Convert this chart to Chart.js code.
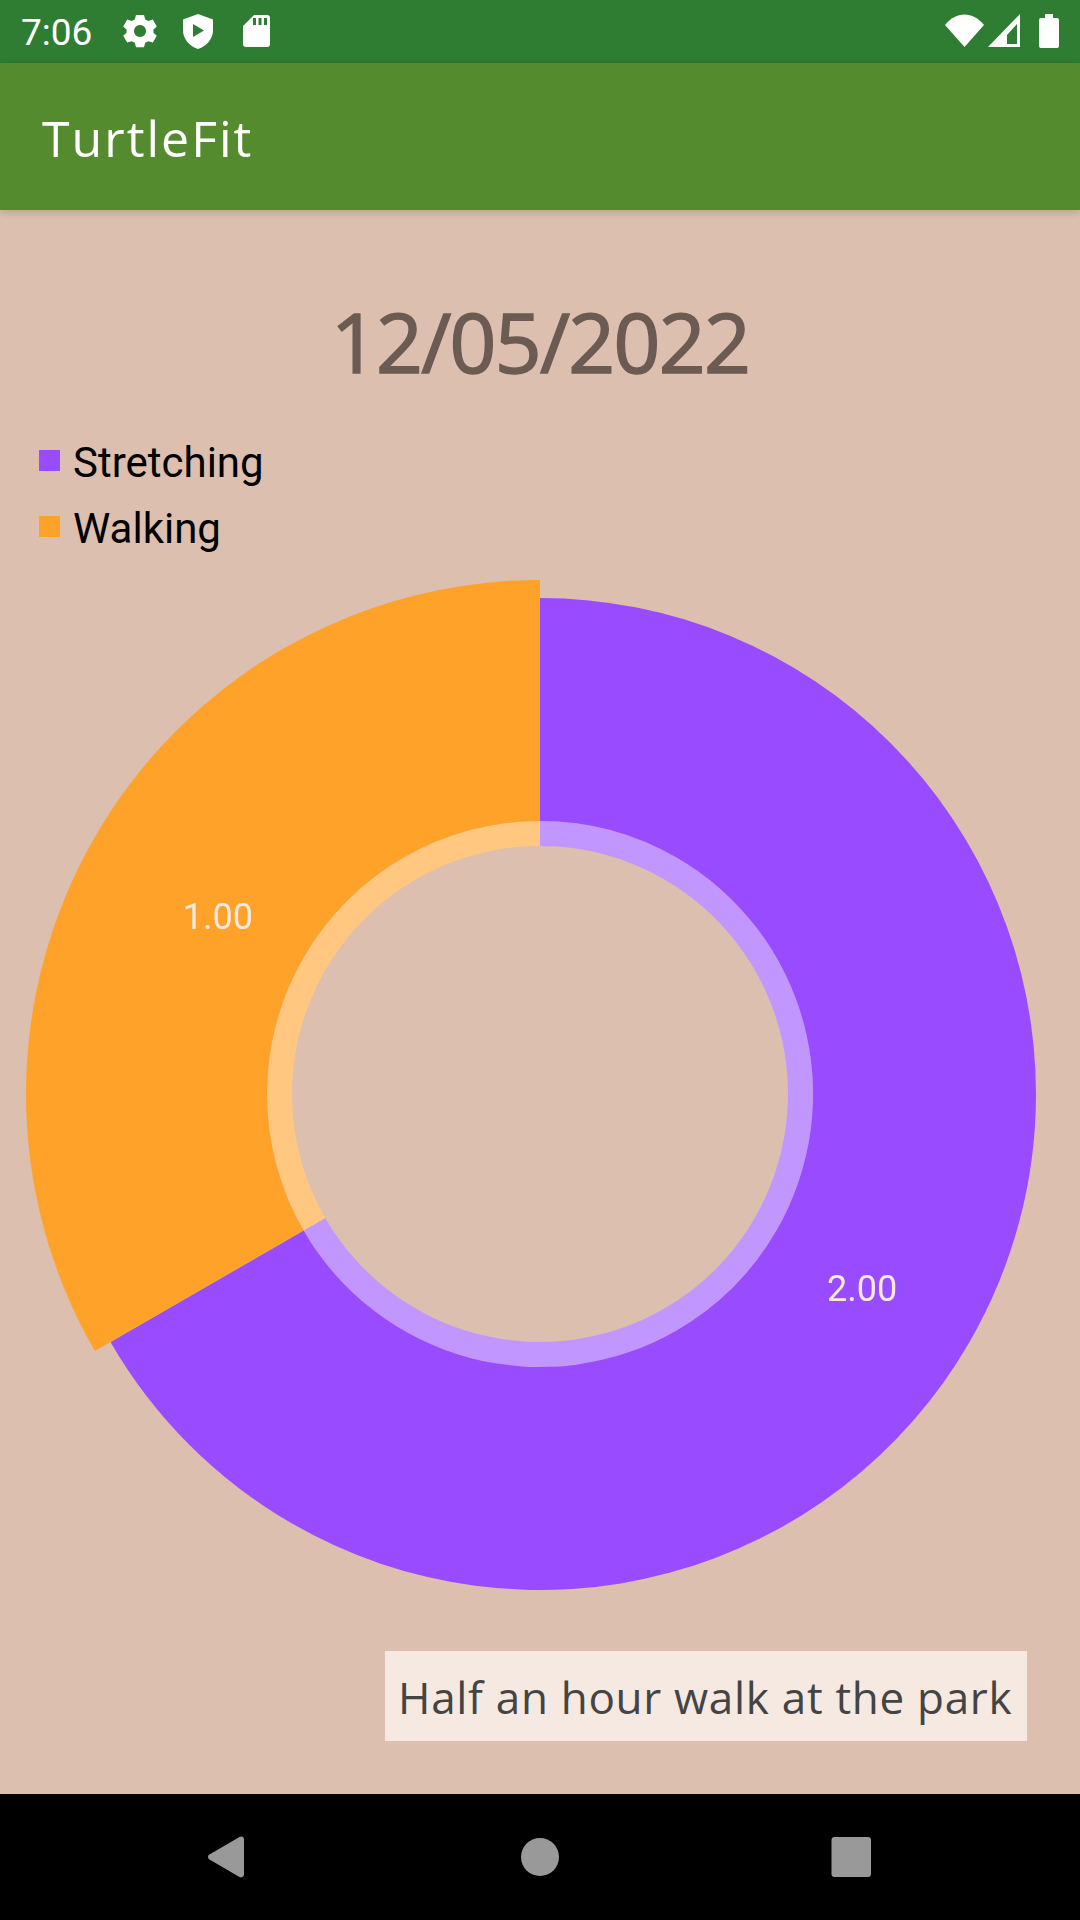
<!DOCTYPE html>
<html>
<head>
<meta charset="utf-8">
<title>TurtleFit</title>
<script src="https://cdn.jsdelivr.net/npm/chart.js@4"></script>
<style>
html,body{margin:0;padding:0;background:#000;}
#page{position:relative;width:1080px;height:1920px;overflow:hidden;background:#DCBFAE;}
#page>*{position:absolute;}
#status{left:0;top:0;width:1080px;height:63px;background:#2E7D32;}
#appbar{left:0;top:63px;width:1080px;height:147px;background:#558B2F;box-shadow:0 2px 8px rgba(0,0,0,.18);}
#nav{left:0;top:1794px;width:1080px;height:126px;background:#000;}
.t{white-space:nowrap;line-height:1;}
#time{left:21px;top:14px;font:37px/1 Roboto,sans-serif;color:#fff;}
#title{left:42px;top:113px;font:50px/1 "Open Sans",sans-serif;letter-spacing:2px;color:#fff;}
#date{left:0;width:1080px;top:300px;text-align:center;font:82px/1 "Open Sans",sans-serif;letter-spacing:-1.7px;-webkit-text-stroke:1.6px #6B5B53;color:#6B5B53;}
#chart{left:0;top:554px;width:1080px;height:1080px;}
.legbox{width:21px;height:21px;left:39px;}
.legtxt{left:73px;font:42px/1 Roboto,sans-serif;color:#000;}
#note{left:385px;top:1651px;width:642px;height:90px;background:#F5E9E1;}
#notetxt{left:398px;top:1675px;font:44px/1 "Open Sans",sans-serif;letter-spacing:.7px;color:#444;}
svg{overflow:visible;}
</style>
</head>
<body>
<div id="page">
  <div id="status"></div>
  <div id="appbar"></div>
  <div id="time" class="t">7:06</div>
  <svg style="left:0;top:0" width="1080" height="64" fill="#fff">
    <path fill-rule="evenodd" transform="translate(140 31) scale(.8) translate(-140 -31)" d="M135 11h10l1.500 5.500 4 2 5.500-1.800 5 8.600-4.200 3.800v4l4.200 3.800-5 8.600-5.500-1.800-4 2-1.500 5.500h-10l-1.500-5.500-4-2-5.500 1.800-5-8.600 4.200-3.800v-4l-4.200-3.800 5-8.600 5.500 1.800 4-2zM140 23.500a7.500 7.500 0 1 0 .01 0z"/>
    <path fill-rule="evenodd" d="M198 14l15 5.500v11c0 8-6 15.500-15 18.500-9-3-15-10.500-15-18.500v-11zM193 24v13l11-6.500z"/>
    <path fill-rule="evenodd" d="M254 15h13a3 3 0 0 1 3 3v26a3 3 0 0 1-3 3h-21a3 3 0 0 1-3-3v-18zM253 18v7h3v-7zM258.500 18v7h3v-7zM264 18v7h3v-7z"/>
    <path d="M945 25c11-14 28-14 39 0l-19.500 22z"/>
    <path fill-rule="evenodd" d="M1020 14v33h-32zM1017 24l-10 11v9h10z"/>
    <path d="M1045 14h8v4h4a2 2 0 0 1 2 2v26a2 2 0 0 1-2 2h-16a2 2 0 0 1-2-2v-26a2 2 0 0 1 2-2h4z"/>
  </svg>
  <div id="title" class="t">TurtleFit</div>
  <div id="date" class="t">12/05/2022</div>
  <div id="legend"></div>
  <canvas id="chart" width="1080" height="1080"></canvas>
  <div id="note"></div>
  <div id="notetxt" class="t">Half an hour walk at the park</div>
  <div id="nav"></div>
  <svg style="left:0;top:1794px" width="1080" height="126" fill="#999">
    <path d="M241 42.500a3 3 0 0 1 3 3v35a3 3 0 0 1-4.500 2.600l-30-17.500a3 3 0 0 1 0-5.200l30-17.500a3 3 0 0 1 1.500-.4z"/>
    <circle cx="540" cy="63" r="19"/>
    <rect x="831.500" y="43" width="39.500" height="40" rx="3"/>
  </svg>
</div>
<script>
const categories = ['Stretching', 'Walking'];
const hours = [2, 1];
const sliceColors = ['#994CFF', '#FFA229'];
const ringColors = ['#C296FF', '#FFC780'];
const highlightedSlice = 1;
const highlightExtra = 18;
const outerRadius = 496;
const labelColor = '#F5E9E1';

// The highlighted slice sticks out past the others by a fixed amount.
const highlight = {
  id: 'highlight',
  afterDatasetsUpdate(chart) {
    chart.getDatasetMeta(0).data[highlightedSlice].outerRadius = outerRadius + highlightExtra;
  }
};
// Value labels sit at 3/4 of the normal radius, along each slice's middle angle.
const valueLabels = {
  id: 'valueLabels',
  afterDatasetsDraw(chart) {
    const ctx = chart.ctx;
    const meta = chart.getDatasetMeta(0);
    ctx.save();
    ctx.font = '36px Roboto, sans-serif';
    ctx.fillStyle = labelColor;
    ctx.textAlign = 'center';
    ctx.textBaseline = 'middle';
    meta.data.forEach((arc, i) => {
      const mid = (arc.startAngle + arc.endAngle) / 2;
      const r = outerRadius * 0.75;
      ctx.fillText(hours[i].toFixed(2), arc.x + Math.cos(mid) * r, arc.y + Math.sin(mid) * r + 12);
    });
    ctx.restore();
  }
};

const legend = document.getElementById('legend');
categories.forEach((name, i) => {
  const y = 450 + i * 66;
  const box = document.createElement('div');
  box.className = 'legbox';
  box.style.cssText = 'position:absolute;top:' + y + 'px;background:' + sliceColors[i];
  const txt = document.createElement('div');
  txt.className = 'legtxt t';
  txt.style.cssText = 'position:absolute;top:' + (y - 8) + 'px';
  txt.textContent = name;
  legend.append(box, txt);
});

new Chart(document.getElementById('chart'), {
  type: 'doughnut',
  data: {
    labels: categories,
    datasets: [
      { data: hours, backgroundColor: sliceColors, borderWidth: 0, weight: 223 },
      { data: hours, backgroundColor: ringColors, borderWidth: 0, weight: 25 }
    ]
  },
  options: {
    responsive: false,
    animation: false,
    radius: outerRadius,
    cutout: '50%',
    plugins: { legend: { display: false }, tooltip: { enabled: false } }
  },
  plugins: [highlight, valueLabels]
});
</script>
</body>
</html>
